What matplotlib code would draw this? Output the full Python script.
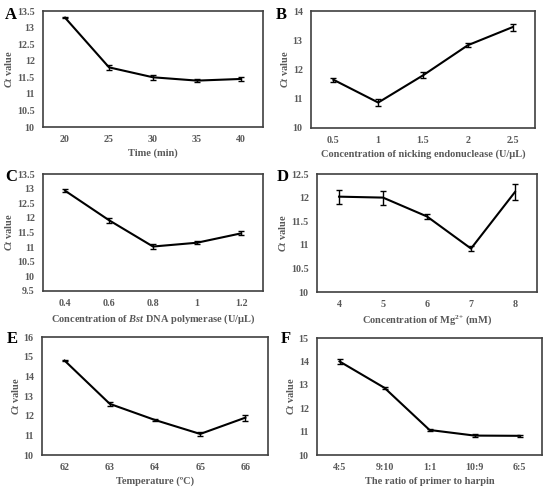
import matplotlib
matplotlib.use('Agg')
import matplotlib.pyplot as plt
from matplotlib.ticker import MultipleLocator, FormatStrFormatter

plt.rcParams['font.family'] = ['Liberation Serif', 'DejaVu Serif']
plt.rcParams['mathtext.fontset'] = 'custom'
plt.rcParams['mathtext.rm'] = 'Liberation Serif:bold'
plt.rcParams['mathtext.it'] = 'Liberation Serif:italic:bold'
plt.rcParams['mathtext.bf'] = 'Liberation Serif:bold'

# ==================================================
# Data
# ==================================================
time_labels = ['20', '25', '30', '35', '40']
time_ct = [13.3, 11.8, 11.5, 11.4, 11.45]
time_err = [0.02, 0.08, 0.08, 0.04, 0.05]

nick_labels = ['0.5', '1', '1.5', '2', '2.5']
nick_ct = [11.65, 10.87, 11.8, 12.83, 13.45]
nick_err = [0.07, 0.12, 0.1, 0.07, 0.12]

bst_labels = ['0.4', '0.6', '0.8', '1', '1.2']
bst_ct = [12.93, 11.92, 11.02, 11.15, 11.47]
bst_err = [0.05, 0.08, 0.07, 0.05, 0.07]

mg_labels = ['4', '5', '6', '7', '8']
mg_ct = [12.02, 12.0, 11.6, 10.92, 12.12]
mg_err = [0.15, 0.15, 0.06, 0.05, 0.17]

temp_labels = ['62', '63', '64', '65', '66']
temp_ct = [14.8, 12.6, 11.78, 11.07, 11.9]
temp_err = [0.03, 0.12, 0.05, 0.1, 0.15]

ratio_labels = ['4:5', '9:10', '1:1', '10:9', '6:5']
ratio_ct = [14.0, 12.87, 11.07, 10.83, 10.82]
ratio_err = [0.12, 0.05, 0.03, 0.08, 0.05]

grey = '#595959'

panels = [
    ('A', time_labels, time_ct, time_err, 'Time (min)', (10, 13.5, 0.5),
     [0.0782, 0.7392, 0.4, 0.2382], (11, 15)),
    ('B', nick_labels, nick_ct, nick_err,
     'Concentration of nicking endonuclease (U/\u03bcL)', (10, 14, 1),
     [0.5655, 0.7372, 0.4073, 0.2402], (281, 15)),
    ('C', bst_labels, bst_ct, bst_err,
     r'Concentration of $\it{Bst}$ DNA polymerase (U/$\mathrm{\mu}$L)', (9.5, 13.5, 0.5),
     [0.0782, 0.4025, 0.4, 0.2402], (11, 177)),
    ('D', mg_labels, mg_ct, mg_err, r'Concentration of Mg$^{2{+}}$ (mM)', (10, 12.5, 0.5),
     [0.5764, 0.4004, 0.4, 0.2423], (283, 177)),
    ('E', temp_labels, temp_ct, temp_err, 'Temperature (\u00baC)', (10, 16, 1),
     [0.0764, 0.0657, 0.4109, 0.2423], (12, 339)),
    ('F', ratio_labels, ratio_ct, ratio_err, 'The ratio of primer to harpin', (10, 15, 1),
     [0.5764, 0.0657, 0.4091, 0.2402], (286, 339)),
]

fig = plt.figure(figsize=(5.5, 4.87), dpi=100)

for letter, labels, ct, err, xlabel, (ymin, ymax, step), rect, (lx, ly) in panels:
    ax = fig.add_axes(rect)
    pos = list(range(len(labels)))
    ax.errorbar(pos, ct, yerr=err, color='black', linewidth=1.5,
                elinewidth=1, capsize=2, capthick=1)
    ax.set_xlim(-0.5, len(labels) - 0.5)
    ax.set_ylim(ymin, ymax)
    ax.yaxis.set_major_locator(MultipleLocator(step))
    ax.yaxis.set_major_formatter(FormatStrFormatter('%g'))
    ax.set_xticks(pos)
    ax.set_xticklabels(labels)
    ax.tick_params(length=0, labelsize=7.2, labelcolor=grey, pad=6)
    for t in ax.get_xticklabels() + ax.get_yticklabels():
        t.set_fontweight('bold')
    for s in ax.spines.values():
        s.set_color('#404040')
        s.set_linewidth(1.2)
    ax.set_xlabel(xlabel, fontsize=7.5, color=grey, fontweight='bold', labelpad=3)
    ax.set_ylabel(r'$\it{Ct}$ value', fontsize=7.5, color=grey,
                  fontweight='bold', labelpad=2)
    fig.text(lx / 550, 1 - ly / 487, letter, fontsize=12, fontweight='bold',
             ha='center', va='center', color='black')

fig.savefig('out.png', dpi=100)
